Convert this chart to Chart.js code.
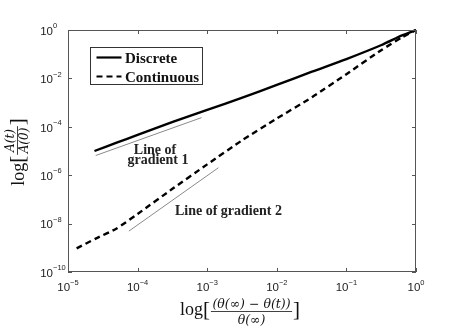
<!DOCTYPE html>
<html>
<head>
<meta charset="utf-8">
<script src="https://cdn.jsdelivr.net/npm/chart.js@4.4.0/dist/chart.umd.min.js"></script>
<style>
html, body { margin: 0; padding: 0; background: #fff; }
#caixa { width: 474px; height: 333px; }
</style>
</head>
<body>
<div id="caixa"><canvas id="grafico"></canvas></div>
<script>
// curva discreta
const discretoX = [2.4e-5, 5e-5, 1e-4, 3.2e-4, 1e-3, 3.2e-3, 1e-2, 3.2e-2, 0.1, 0.32, 0.63, 1];
const discretoY = [1e-5, 2.2e-5, 4.6e-5, 1.6e-4, 5e-4, 1.6e-3, 5.4e-3, 1.9e-2, 6.3e-2, 0.24, 0.6, 1];

// curva continua
const continuoX = [1.33e-5, 2.5e-5, 5e-5, 1e-4, 3.2e-4, 1e-3, 3.2e-3, 1e-2, 3.2e-2, 0.1, 0.32, 0.63, 1];
const continuoY = [9.5e-10, 2.4e-9, 6.3e-9, 2.5e-8, 2.8e-7, 2.8e-6, 2.8e-5, 2.2e-4, 1.66e-3, 1.5e-2, 0.15, 0.5, 1];

// retas de referencia (inclinacao 1 e 2)
const reta1X = [2.5e-5, 8.3e-4];
const reta1Y = [6.5e-6, 2.4e-4];
const reta2X = [7.5e-5, 1.45e-3];
const reta2Y = [4.9e-9, 2.04e-6];

// marcas dos eixos
const ticksX = [1e-5, 1e-4, 1e-3, 1e-2, 1e-1, 1];
const ticksY = [1e-10, 1e-8, 1e-6, 1e-4, 1e-2, 1];

function pontos(xs, ys) {
  return xs.map((x, i) => ({ x: x, y: ys[i] }));
}

// textos soltos dentro do grafico (posicao em coordenadas dos eixos)
const anotacoes = [
  { texto: 'Line of', x: 1.78e-4, y: 7.5e-6 },
  { texto: 'gradient 1', x: 1.96e-4, y: 2.8e-6 },
  { texto: 'Line of gradient 2', x: 2.02e-3, y: 2.3e-8 }
];

function potencia(ctx, v, x, y, modo) {
  const exp = String(Math.round(Math.log10(v))).replace('-', '\u2212');
  ctx.font = '11.5px "Liberation Sans", Arial, sans-serif';
  const w10 = ctx.measureText('10').width;
  ctx.font = '7.5px "Liberation Sans", Arial, sans-serif';
  const wExp = ctx.measureText(exp).width;
  let x0;
  if (modo === 'centro') x0 = x - (w10 + wExp) / 2;
  else x0 = x - w10; // "10" alinhado a direita
  ctx.textAlign = 'left';
  ctx.textBaseline = 'alphabetic';
  ctx.font = '11.5px "Liberation Sans", Arial, sans-serif';
  ctx.fillText('10', x0, y);
  ctx.font = '7.5px "Liberation Sans", Arial, sans-serif';
  ctx.fillText(exp, x0 + w10, y - 6.5);
}

// desenha "log[ num / den ]" com a fracao
function tituloFracao(ctx, cx, cy, rot, num, den, cfg) {
  ctx.save();
  ctx.translate(cx, cy);
  if (rot) ctx.rotate(-Math.PI / 2);
  ctx.fillStyle = '#111';
  ctx.strokeStyle = '#111';
  ctx.textBaseline = 'alphabetic';
  ctx.textAlign = 'left';
  ctx.font = '18px "Liberation Serif", serif';
  const wLog = ctx.measureText('log').width;
  ctx.font = cfg.fonteColchete;
  const wCol = ctx.measureText('[').width;
  ctx.font = cfg.fonteFracao;
  const wNum = ctx.measureText(num).width;
  const wDen = ctx.measureText(den).width;
  const wFrac = Math.max(wNum, wDen) + 3;
  const total = wLog + wCol + wFrac + 2 + wCol;
  let x = -total / 2;
  ctx.font = '18px "Liberation Serif", serif';
  ctx.fillText('log', x, 0);
  x += wLog;
  ctx.font = cfg.fonteColchete;
  ctx.fillText('[', x, cfg.colY);
  x += wCol + 1;
  ctx.font = cfg.fonteFracao;
  ctx.fillText(num, x + (wFrac - wNum) / 2, cfg.numY);
  ctx.fillText(den, x + (wFrac - wDen) / 2, cfg.denY);
  ctx.lineWidth = 0.8;
  ctx.beginPath();
  ctx.moveTo(x, cfg.barraY);
  ctx.lineTo(x + wFrac, cfg.barraY);
  ctx.stroke();
  x += wFrac + 1;
  ctx.font = cfg.fonteColchete;
  ctx.fillText(']', x, cfg.colY);
  ctx.restore();
}

const eixos = {
  id: 'eixos',
  afterDraw(chart) {
    const ctx = chart.ctx, a = chart.chartArea;
    const sx = chart.scales.x, sy = chart.scales.y;
    ctx.save();

    // caixa e marcas para dentro
    ctx.strokeStyle = '#555';
    ctx.lineWidth = 1;
    ctx.strokeRect(a.left + 0.5, a.top + 0.5, a.right - a.left - 1, a.bottom - a.top - 1);
    ctx.beginPath();
    ticksX.forEach(v => {
      const p = Math.round(sx.getPixelForValue(v)) + 0.5;
      ctx.moveTo(p, a.bottom); ctx.lineTo(p, a.bottom - 4);
      ctx.moveTo(p, a.top); ctx.lineTo(p, a.top + 4);
    });
    ticksY.forEach(v => {
      const p = Math.round(sy.getPixelForValue(v)) + 0.5;
      ctx.moveTo(a.left, p); ctx.lineTo(a.left + 4, p);
      ctx.moveTo(a.right, p); ctx.lineTo(a.right - 4, p);
    });
    ctx.stroke();

    // rotulos 10^n
    ctx.fillStyle = '#222';
    ticksX.forEach(v => potencia(ctx, v, sx.getPixelForValue(v), a.bottom + 19, 'centro'));
    ticksY.forEach(v => potencia(ctx, v, a.left - 15, sy.getPixelForValue(v) + 4.7, 'direita'));

    // legenda
    const lx = 90.5, ly = 47.5;
    ctx.fillStyle = '#fff';
    ctx.fillRect(lx, ly, 112, 37);
    ctx.strokeStyle = '#333';
    ctx.lineWidth = 1;
    ctx.strokeRect(lx, ly, 112, 37);
    const itens = chart.data.datasets.slice(0, 2);
    itens.forEach((ds, i) => {
      const yy = ly + 10 + i * 19;
      ctx.strokeStyle = '#000';
      ctx.lineWidth = 2.2;
      ctx.setLineDash(ds.borderDash || []);
      ctx.beginPath();
      ctx.moveTo(lx + 6, yy);
      ctx.lineTo(lx + 31, yy);
      ctx.stroke();
      ctx.setLineDash([]);
      ctx.fillStyle = '#111';
      ctx.font = 'bold 15px "Liberation Serif", serif';
      ctx.textAlign = 'left';
      ctx.textBaseline = 'alphabetic';
      ctx.fillText(ds.label, lx + 34.5, yy + 5.2);
    });

    // textos das retas
    ctx.font = 'bold 14px "Liberation Serif", serif';
    ctx.textAlign = 'center';
    ctx.fillStyle = '#222';
    anotacoes.forEach(n => {
      ctx.fillText(n.texto, sx.getPixelForValue(n.x), sy.getPixelForValue(n.y));
    });
    ctx.restore();

    // titulos dos eixos
    tituloFracao(ctx, 24, 152, true, 'A(t)', 'A(0)', {
      fonteFracao: 'italic 12px "DejaVu Serif", serif',
      fonteColchete: '21px "Liberation Serif", serif',
      numY: -10.5, denY: 4, barraY: -6.5, colY: 0
    });
    tituloFracao(ctx, 240, 315, false, '(\u03b8(\u221e) \u2212 \u03b8(t))', '\u03b8(\u221e)', {
      fonteFracao: 'italic 12.5px "DejaVu Serif", serif',
      fonteColchete: '21px "Liberation Serif", serif',
      numY: -7.5, denY: 8.5, barraY: -3.5, colY: 1
    });
  }
};

const ctx = document.getElementById('grafico').getContext('2d');
const grafico = new Chart(ctx, {
  type: 'scatter',
  data: {
    datasets: [
      {
        label: 'Discrete',
        data: pontos(discretoX, discretoY),
        showLine: true,
        borderColor: '#000',
        borderWidth: 2.4,
        pointRadius: 0,
        tension: 0.2,
        clip: false
      },
      {
        label: 'Continuous',
        data: pontos(continuoX, continuoY),
        showLine: true,
        borderColor: '#000',
        borderWidth: 2.4,
        borderDash: [6, 4],
        pointRadius: 0,
        tension: 0.2,
        clip: false
      },
      {
        label: 'gradient 1',
        data: pontos(reta1X, reta1Y),
        showLine: true,
        borderColor: '#8a8a8a',
        borderWidth: 1,
        pointRadius: 0
      },
      {
        label: 'gradient 2',
        data: pontos(reta2X, reta2Y),
        showLine: true,
        borderColor: '#8a8a8a',
        borderWidth: 1,
        pointRadius: 0
      }
    ]
  },
  options: {
    responsive: true,
    maintainAspectRatio: false,
    animation: false,
    layout: { padding: { top: 30, right: 58, left: 0, bottom: 0 } },
    scales: {
      x: {
        type: 'logarithmic', min: 1e-5, max: 1,
        grid: { display: false }, border: { display: false },
        ticks: { display: false },
        afterFit(s) { s.height = 61; }
      },
      y: {
        type: 'logarithmic', min: 1e-10, max: 1,
        grid: { display: false }, border: { display: false },
        ticks: { display: false },
        afterFit(s) { s.width = 68; }
      }
    },
    plugins: {
      legend: { display: false },
      tooltip: { enabled: false }
    }
  },
  plugins: [eixos]
});
</script>
</body>
</html>
